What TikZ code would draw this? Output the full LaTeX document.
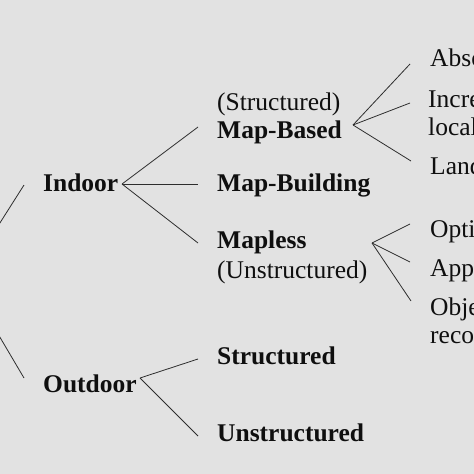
\documentclass[tikz,border=0pt]{standalone}
\usepackage{fontspec}
\setmainfont{Liberation Serif}
\definecolor{bgc}{RGB}{226,226,226}
\definecolor{linec}{RGB}{45,45,45}
\definecolor{txtc}{RGB}{15,15,15}
\begin{document}
\begin{tikzpicture}[x=1pt,y=-1pt,
  lbl/.style={anchor=base west,inner sep=0pt,text=txtc,font=\fontsize{25.5}{28}\selectfont},
  blbl/.style={lbl,font=\fontsize{25.5}{28}\selectfont\bfseries},
  conn/.style={draw=linec,line width=0.8pt}]
\useasboundingbox (0,0) rectangle (474,474);
\clip (0,0) rectangle (474,474);
\fill[bgc] (0,0) rectangle (474,474);
% level 1
\node[blbl] (indoor) at (43,191) {Indoor};
\node[blbl] (outdoor) at (43,392) {Outdoor};
% level 2
\node[lbl] (structlab) at (217,110) {(Structured)};
\node[blbl] (mapbased) at (217,138) {Map-Based};
\node[blbl] (mapbuilding) at (217,191) {Map-Building};
\node[blbl] (mapless) at (217,248) {Mapless};
\node[lbl] (unstructlab) at (217,278) {(Unstructured)};
\node[blbl] (structured) at (217,364) {Structured};
\node[blbl] (unstructured) at (217,441) {Unstructured};
% level 3
\node[lbl] (absolute) at (430,66) {Absolute localization};
\node[lbl] (incr) at (428,107) {Incremental};
\node[lbl] (incr2) at (428,135) {localization};
\node[lbl] (landmark) at (430,174) {Landmark tracking};
\node[lbl] (optical) at (430,237) {Optical flow};
\node[lbl] (appearance) at (430,276) {Appearance-based};
\node[lbl] (object) at (430,315) {Object};
\node[lbl] (object2) at (430,343) {recognition};
% fan points and line ends
\coordinate (root) at (-35,278);
\coordinate (eIndoor) at (24,185);
\coordinate (eOutdoor) at (24,378);
\coordinate (fIndoor) at (122,184);
\coordinate (fOutdoor) at (140,378);
\coordinate (eMapBased) at (198,127);
\coordinate (eMapBuilding) at (198,184);
\coordinate (eMapless) at (198,243);
\coordinate (eStructured) at (198,359);
\coordinate (eUnstructured) at (198,436);
\coordinate (fMapBased) at (353,125);
\coordinate (fMapless) at (372,243);
\coordinate (eAbsolute) at (410,64);
\coordinate (eIncr) at (410,103);
\coordinate (eLandmark) at (411,161);
\coordinate (eOptical) at (410,224);
\coordinate (eAppearance) at (410,262);
\coordinate (eObject) at (411,301);
% connectors
\draw[conn] (root) -- (eIndoor);
\draw[conn] (root) -- (eOutdoor);
\draw[conn] (fIndoor) -- (eMapBased);
\draw[conn] (fIndoor) -- (eMapBuilding);
\draw[conn] (fIndoor) -- (eMapless);
\draw[conn] (fOutdoor) -- (eStructured);
\draw[conn] (fOutdoor) -- (eUnstructured);
\draw[conn] (fMapBased) -- (eAbsolute);
\draw[conn] (fMapBased) -- (eIncr);
\draw[conn] (fMapBased) -- (eLandmark);
\draw[conn] (fMapless) -- (eOptical);
\draw[conn] (fMapless) -- (eAppearance);
\draw[conn] (fMapless) -- (eObject);
\end{tikzpicture}
\end{document}
